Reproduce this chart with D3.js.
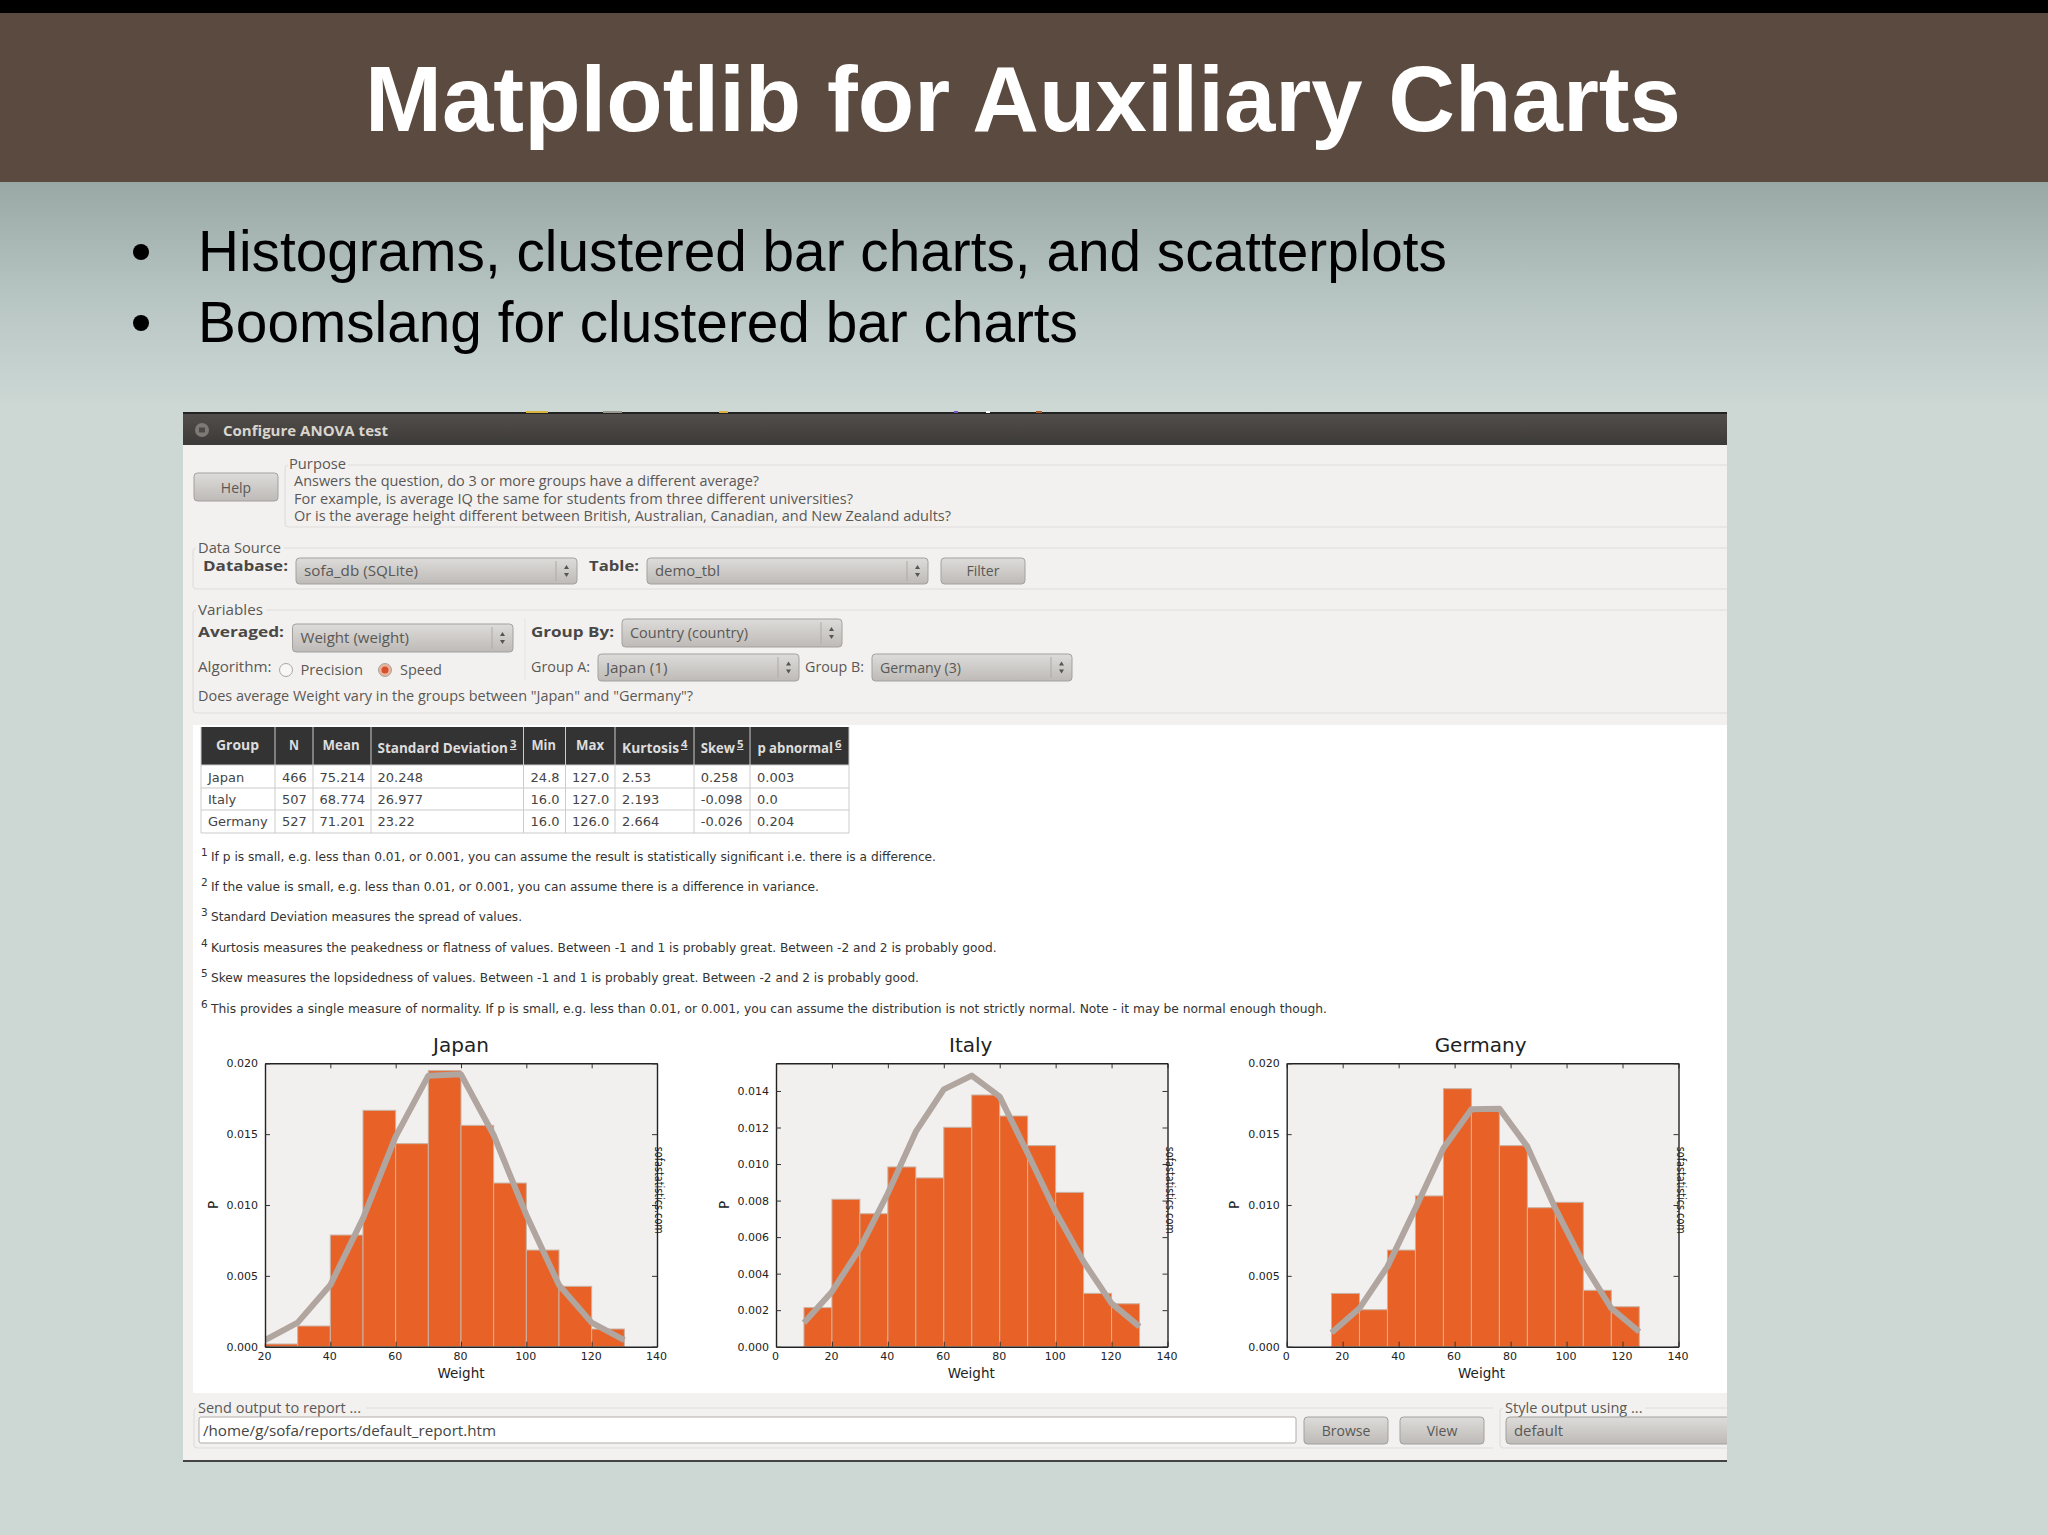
<!DOCTYPE html>
<html>
<head>
<meta charset="utf-8">
<title>Matplotlib for Auxiliary Charts</title>
<script src="https://cdn.jsdelivr.net/npm/d3@7/dist/d3.min.js"></script>
<style>
  html, body { margin: 0; padding: 0; background: #cdd8d5; }
  svg { display: block; }
  .ui { font-family: "Open Sans", sans-serif; font-size: 14px; fill: #5a5855; }
  .ui-bold { font-family: "Open Sans", sans-serif; font-size: 14px; font-weight: 700; fill: #4a4846; }
  .cell { font-family: "DejaVu Sans", sans-serif; font-size: 13px; fill: #444; }
  .head { font-family: "Open Sans", sans-serif; font-size: 14px; font-weight: 700; fill: #ddd; }
  .note { font-family: "DejaVu Sans", sans-serif; font-size: 12px; fill: #333; }
  .plot text { font-family: "DejaVu Sans", sans-serif; fill: #222; }
</style>
</head>
<body>
<svg id="slide" width="2048" height="1535" viewBox="0 0 2048 1535"></svg>
<script>
// ---- values ----
const slideTitle = "Matplotlib for Auxiliary Charts";
const bullets = ["Histograms, clustered bar charts, and scatterplots", "Boomslang for clustered bar charts"];

const purposeLines = [
  "Answers the question, do 3 or more groups have a different average?",
  "For example, is average IQ the same for students from three different universities?",
  "Or is the average height different between British, Australian, Canadian, and New Zealand adults?",
];

const tableHeaders = ["Group", "N", "Mean", "Standard Deviation", "Min", "Max", "Kurtosis", "Skew", "p abnormal"];
const headerNotes = ["", "", "", "3", "", "", "4", "5", "6"];
const tableRows = [
  ["Japan", "466", "75.214", "20.248", "24.8", "127.0", "2.53", "0.258", "0.003"],
  ["Italy", "507", "68.774", "26.977", "16.0", "127.0", "2.193", "-0.098", "0.0"],
  ["Germany", "527", "71.201", "23.22", "16.0", "126.0", "2.664", "-0.026", "0.204"],
];

const footnotes = [
  "If p is small, e.g. less than 0.01, or 0.001, you can assume the result is statistically significant i.e. there is a difference.",
  "If the value is small, e.g. less than 0.01, or 0.001, you can assume there is a difference in variance.",
  "Standard Deviation measures the spread of values.",
  "Kurtosis measures the peakedness or flatness of values. Between -1 and 1 is probably great. Between -2 and 2 is probably good.",
  "Skew measures the lopsidedness of values. Between -1 and 1 is probably great. Between -2 and 2 is probably good.",
  "This provides a single measure of normality. If p is small, e.g. less than 0.01, or 0.001, you can assume the distribution is not strictly normal. Note - it may be normal enough though.",
];

const xTicks = [20, 40, 60, 80, 100, 120, 140];
const xTicksZero = [0, 20, 40, 60, 80, 100, 120, 140];
const yTicksWide = [0, 0.005, 0.01, 0.015, 0.02];
const yTicksItaly = [0, 0.002, 0.004, 0.006, 0.008, 0.01, 0.012, 0.014];

const japanEdges = [20, 30, 40, 50, 60, 70, 80, 90, 100, 110, 120, 130];
const japanHeights = [0.00019, 0.00146, 0.00788, 0.01668, 0.01433, 0.01948, 0.01562, 0.01155, 0.00682, 0.00426, 0.00125];
const japanCurve = [0.00047, 0.0017, 0.00435, 0.00906, 0.01482, 0.01913, 0.01922, 0.01494, 0.0093, 0.00435, 0.0017, 0.00047];

const italyEdges = [10, 20, 30, 40, 50, 60, 70, 80, 90, 100, 110, 120, 130];
const italyHeights = [0.00214, 0.00807, 0.00728, 0.00984, 0.00924, 0.01201, 0.01378, 0.01263, 0.01101, 0.00845, 0.00292, 0.00235];
const italyCurve = [0.00131, 0.00301, 0.00538, 0.0084, 0.01177, 0.01409, 0.01484, 0.01369, 0.01059, 0.00739, 0.00465, 0.00237, 0.0011];

const germanyEdges = [16, 26, 36, 46, 56, 66, 76, 86, 96, 106, 116, 126];
const germanyHeights = [0.00376, 0.00261, 0.00682, 0.01064, 0.01821, 0.01671, 0.01419, 0.00981, 0.01019, 0.00398, 0.00282];
const germanyCurve = [0.00099, 0.00271, 0.00565, 0.00976, 0.014, 0.01675, 0.0168, 0.01412, 0.00976, 0.00588, 0.00271, 0.00106];

// ---- drawing ----
const svg = d3.select("#slide");
const defs = svg.append("defs");

function gradient(id, stops) {
  const g = defs.append("linearGradient").attr("id", id).attr("x1", 0).attr("y1", 0).attr("x2", 0).attr("y2", 1);
  stops.forEach(([o, c]) => g.append("stop").attr("offset", o).attr("stop-color", c));
}
gradient("bgFade", [[0, "#99a7a5"], [0.5, "#b7c5c2"], [1, "#cdd8d5"]]);
gradient("barFade", [[0, "#524e4b"], [1, "#3c3a38"]]);
gradient("widget", [[0, "#dedcda"], [1, "#bdbab7"]]);

// Text squeezed or stretched to the width it has in the picture (x to x2).
function txt(x, y, s, x2, cls, parent = svg) {
  const t = parent.append("text").attr("x", x).attr("y", y).attr("class", cls).text(s);
  if (x2 != null) t.attr("textLength", x2 - x).attr("lengthAdjust", "spacingAndGlyphs");
  return t;
}

// Slide background and heading.
svg.append("rect").attr("width", 2048).attr("height", 1535).attr("fill", "#cdd8d5");
svg.append("rect").attr("y", 182).attr("width", 2048).attr("height", 225).attr("fill", "url(#bgFade)");
svg.append("rect").attr("width", 2048).attr("height", 13).attr("fill", "#000");
svg.append("rect").attr("y", 13).attr("width", 2048).attr("height", 169).attr("fill", "#5a4a3f");

txt(365, 131, slideTitle, 1681, "").attr("font-family", "Liberation Sans").attr("font-weight", 700)
  .attr("font-size", 92).attr("fill", "#fff");

bullets.forEach((b, i) => {
  const base = 271 + i * 71;
  svg.append("circle").attr("cx", 141).attr("cy", base - 19).attr("r", 8).attr("fill", "#000");
  txt(198, base, b, i === 0 ? 1447 : 1078, "").attr("font-family", "Liberation Sans")
    .attr("font-size", 57).attr("fill", "#000");
});

// Window chrome.
const win = { left: 183, right: 1727, top: 413, bottom: 1462 };
svg.append("rect").attr("x", win.left).attr("y", win.top).attr("width", win.right - win.left)
  .attr("height", win.bottom - win.top).attr("fill", "#f3f1f0");
svg.append("rect").attr("x", win.left).attr("y", win.top).attr("width", win.right - win.left)
  .attr("height", 32).attr("fill", "url(#barFade)");
svg.append("rect").attr("x", win.left).attr("y", win.top - 1).attr("width", win.right - win.left)
  .attr("height", 2).attr("fill", "#222");
// specks of the desktop panel peeking out above the title bar
[[526, 22, "#d9b53c"], [603, 19, "#9a9a90"], [719, 9, "#e0b040"], [954, 4, "#7a50c0"], [986, 4, "#fff"], [1036, 6, "#a85a2a"]]
  .forEach(([x, w, c]) => svg.append("rect").attr("x", x).attr("y", win.top - 2).attr("width", w).attr("height", 2).attr("fill", c));
svg.append("rect").attr("x", win.left).attr("y", win.bottom - 2).attr("width", win.right - win.left)
  .attr("height", 2).attr("fill", "#444");

svg.append("circle").attr("cx", 202).attr("cy", 430).attr("r", 7).attr("fill", "#7d7a76");
svg.append("rect").attr("x", 199).attr("y", 427.5).attr("width", 6).attr("height", 5).attr("fill", "#4c4a47");
txt(223, 435.5, "Configure ANOVA test", 388, "ui-bold").style("fill", "#d9d5ce");

function groupBox(x, y1, y2, x2 = win.right) {
  svg.append("path").attr("fill", "none").attr("stroke", "#e0dedc").attr("stroke-width", 1.2)
    .attr("d", `M${x2},${y1} H${x + 4} Q${x},${y1} ${x},${y1 + 4} V${y2 - 4} Q${x},${y2} ${x + 4},${y2} H${x2}`);
}
function button(x1, y1, x2, y2, label) {
  svg.append("rect").attr("x", x1).attr("y", y1).attr("width", x2 - x1).attr("height", y2 - y1)
    .attr("rx", 3.5).attr("fill", "url(#widget)").attr("stroke", "#a3a09d");
  if (label) txt((x1 + x2) / 2, y2 - 8, label, null, "ui").attr("text-anchor", "middle");
}
// Combo box with the little up/down spinner at its right side.
function combo(x1, y1, x2, y2, label, textEnd) {
  button(x1, y1, x2, y2);
  txt(x1 + 8, y2 - (y2 - y1 >= 28 ? 9 : 8), label, textEnd, "ui");
  const sep = x2 - 21, mid = x2 - 10.5, cy = (y1 + y2) / 2;
  svg.append("line").attr("x1", sep).attr("x2", sep).attr("y1", y1 + 3).attr("y2", y2 - 3).attr("stroke", "#adaaa7");
  svg.append("path").attr("fill", "#555")
    .attr("d", `M${mid - 2.5},${cy - 2} L${mid},${cy - 6} L${mid + 2.5},${cy - 2} Z M${mid - 2.5},${cy + 2} L${mid},${cy + 6} L${mid + 2.5},${cy + 2} Z`);
}
function gapInFrame(x, y, w) {
  svg.append("rect").attr("x", x).attr("y", y).attr("width", w).attr("height", 12).attr("fill", "#f3f1f0");
}

// Purpose
button(194, 473, 278, 501, "Help");
groupBox(285, 465, 527);
gapInFrame(288, 459, 60);
txt(289, 469, "Purpose", 346, "ui");
const purposeEnds = [759, 853, 951];
purposeLines.forEach((l, i) => txt(294, 486 + i * 17.5, l, purposeEnds[i], "ui"));

// Data source
groupBox(193, 548, 589);
gapInFrame(196, 541, 88);
txt(198, 553, "Data Source", 281, "ui");
txt(203, 571, "Database:", 288, "ui-bold");
combo(296, 558, 577, 584, "sofa_db (SQLite)", 418);
txt(589, 571, "Table:", 639, "ui-bold");
combo(647, 558, 928, 584, "demo_tbl", 720);
button(941, 558, 1025, 584, "Filter");

// Variables
groupBox(193, 610, 713);
gapInFrame(196, 604, 70);
txt(198, 615, "Variables", 263, "ui");
txt(198, 637, "Averaged:", 284, "ui-bold");
combo(292.5, 624, 513, 652, "Weight (weight)", 409);
svg.append("line").attr("x1", 525).attr("x2", 525).attr("y1", 618).attr("y2", 680).attr("stroke", "#e6e4e2");
txt(531, 637, "Group By:", 614, "ui-bold");
combo(622, 619, 842, 647, "Country (country)", 748);
txt(198, 672, "Algorithm:", 271.5, "ui");
svg.append("circle").attr("cx", 286).attr("cy", 670).attr("r", 6.5).attr("fill", "#f8f7f6").attr("stroke", "#a8a5a2");
txt(300.5, 675, "Precision", 363, "ui");
svg.append("circle").attr("cx", 385).attr("cy", 670).attr("r", 6.5).attr("fill", "#e9b39c").attr("stroke", "#a8a5a2");
svg.append("circle").attr("cx", 385).attr("cy", 670).attr("r", 3.5).attr("fill", "#d8502a");
txt(400, 675, "Speed", 442, "ui");
txt(531, 672, "Group A:", 590, "ui");
combo(598, 654, 799, 681, "Japan (1)", 667.5);
txt(805, 672, "Group B:", 864, "ui");
combo(872, 654, 1072, 681, "Germany (3)", 961);
txt(198, 701, 'Does average Weight vary in the groups between "Japan" and "Germany"?', 693, "ui");

// White report pane.
svg.append("rect").attr("x", 193).attr("y", 725).attr("width", win.right - 193).attr("height", 668).attr("fill", "#fff");

// Statistics table. Column edges, header text spans and cell starts are layout only.
const colEdges = [201, 275, 313, 371, 523.5, 565.5, 615, 694, 750, 849];
const rowEdges = [765, 788, 810, 833];
const headSpans = [[216, 259], [289, 299], [322.6, 359.6], [377.5, 508], [531.5, 556], [576, 604], [622, 679], [700.7, 735], [757.4, 833]];
const cellStarts = [208, 282, 319.5, 377.5, 530.6, 572, 622, 700.7, 757];
const tableG = svg.append("g");
tableG.append("rect").attr("x", colEdges[0]).attr("y", 727).attr("width", colEdges[9] - colEdges[0]).attr("height", 38).attr("fill", "#333");
tableG.selectAll("line.h").data(rowEdges).join("line").attr("class", "h")
  .attr("x1", colEdges[0]).attr("x2", colEdges[9]).attr("y1", d => d).attr("y2", d => d).attr("stroke", "#ccc").attr("stroke-width", 1.2);
tableG.selectAll("line.v").data(colEdges).join("line").attr("class", "v")
  .attr("x1", d => d).attr("x2", d => d).attr("y1", 727).attr("y2", 833).attr("stroke", "#ccc").attr("stroke-width", 1);
tableHeaders.forEach((h, i) => {
  const noted = headerNotes[i] !== "";
  txt(headSpans[i][0], noted ? 753 : 750, h, headSpans[i][1], "head", tableG);
  if (noted) {
    txt(headSpans[i][1] + 2, 748, headerNotes[i], headSpans[i][1] + 8.5, "head", tableG)
      .style("font-size", "10px").style("text-decoration", "underline");
  }
});
tableRows.forEach((row, r) => {
  row.forEach((c, i) => txt(cellStarts[i], 782 + r * 22.2, c, null, "cell", tableG));
});

// Footnotes.
const noteEnds = [936, 819, 522, 996.5, 919, 1327];
footnotes.forEach((n, i) => {
  const base = 860.5 + i * 30.4;
  txt(201, base - 5, String(i + 1), null, "note").style("font-size", "10.5px");
  txt(211, base, n, noteEnds[i], "note");
});

// Small-multiple histograms: matplotlib look, ticks pointing inward on all four sides.
function histogram({ name, left, right, xMin, yMax, xTickVals, yTickVals, edges, heights, curve, clipId, labelShift }) {
  const top = 1063.3, bottom = 1346.7;
  const x = d3.scaleLinear().domain([xMin, 140]).range([left, right]);
  const y = d3.scaleLinear().domain([0, yMax]).range([bottom, top]);
  const g = svg.append("g").attr("class", "plot");

  g.append("rect").attr("x", left).attr("y", top).attr("width", right - left).attr("height", bottom - top).attr("fill", "#f2f0ef");
  defs.append("clipPath").attr("id", clipId).append("rect")
    .attr("x", left).attr("y", top).attr("width", right - left).attr("height", bottom - top);

  g.selectAll("rect.bar").data(heights).join("rect").attr("class", "bar")
    .attr("x", (d, i) => x(edges[i]))
    .attr("width", (d, i) => x(edges[i + 1]) - x(edges[i]))
    .attr("y", d => y(d))
    .attr("height", d => y(0) - y(d))
    .attr("fill", "#e86227")
    .attr("stroke", "#c8b4a6")
    .attr("stroke-width", 1);

  const line = d3.line().x((d, i) => x(edges[i])).y(d => y(d));
  g.append("path").datum(curve).attr("d", line).attr("fill", "none")
    .attr("stroke", "#b0a59f").attr("stroke-width", 6).attr("stroke-linejoin", "round")
    .attr("clip-path", `url(#${clipId})`);

  const fmtY = d3.format(".3f");
  const bottomAxis = d3.axisBottom(x).tickValues(xTickVals).tickSizeInner(-5).tickSizeOuter(0).tickPadding(5.5).tickFormat(d3.format("d"));
  const topAxis = d3.axisTop(x).tickValues(xTickVals).tickSizeInner(-5).tickSizeOuter(0).tickFormat("");
  const leftAxis = d3.axisLeft(y).tickValues(yTickVals).tickSizeInner(-5).tickSizeOuter(0).tickPadding(7).tickFormat(fmtY);
  const rightAxis = d3.axisRight(y).tickValues(yTickVals).tickSizeInner(-5).tickSizeOuter(0).tickFormat("");
  [[bottomAxis, 0, bottom], [topAxis, 0, top], [leftAxis, left, 0], [rightAxis, right, 0]].forEach(([ax, tx, ty]) => {
    const a = g.append("g").attr("transform", `translate(${tx},${ty})`).call(ax);
    a.selectAll("path.domain").attr("stroke", "#222").attr("stroke-width", 1.4);
    a.selectAll("line").attr("stroke", "#333").attr("stroke-width", 1);
    a.selectAll("text").attr("font-size", 11).attr("font-family", null);
  });
  // the saved figure's x labels sit a hair left of their ticks
  g.selectAll("g.tick text").filter(function () { return this.getAttribute("dy") === "0.71em"; }).attr("dx", -1);

  const mid = (left + right) / 2;
  g.append("text").attr("x", mid + labelShift).attr("y", 1051.7).attr("text-anchor", "middle").attr("font-size", 20).text(name);
  g.append("text").attr("x", mid + labelShift / 2).attr("y", 1378).attr("text-anchor", "middle").attr("font-size", 13.5).text("Weight");
  g.append("text").attr("transform", `translate(${left - 47.5},1205) rotate(-90)`).attr("text-anchor", "middle")
    .attr("font-size", 13.5).text("P");
  g.append("text").attr("transform", `translate(${right - 2},1146.7) rotate(90)`)
    .attr("font-size", 12).attr("textLength", 87).attr("lengthAdjust", "spacingAndGlyphs").text("sofastatistics.com");
}

histogram({ name: "Japan", left: 265, right: 657, xMin: 20, yMax: 0.02, xTickVals: xTicks, yTickVals: yTicksWide,
  edges: japanEdges, heights: japanHeights, curve: japanCurve, clipId: "clipJapan", labelShift: 0 });
histogram({ name: "Italy", left: 776, right: 1167.5, xMin: 0, yMax: 0.015515, xTickVals: xTicksZero, yTickVals: yTicksItaly,
  edges: italyEdges, heights: italyHeights, curve: italyCurve, clipId: "clipItaly", labelShift: -1 });
histogram({ name: "Germany", left: 1286.7, right: 1678.5, xMin: 0, yMax: 0.02, xTickVals: xTicksZero, yTickVals: yTicksWide,
  edges: germanyEdges, heights: germanyHeights, curve: germanyCurve, clipId: "clipGermany", labelShift: -2 });

// Bottom strip.
groupBox(194, 1408, 1448, 1493);
gapInFrame(196, 1401, 170);
txt(198, 1413, "Send output to report ...", 361, "ui");
svg.append("rect").attr("x", 199).attr("y", 1417).attr("width", 1097).attr("height", 26).attr("rx", 2)
  .attr("fill", "#fff").attr("stroke", "#b0adaa");
txt(203, 1436, "/home/g/sofa/reports/default_report.htm", 496, "ui").style("fill", "#444");
button(1304, 1417, 1388, 1444, "Browse");
button(1400, 1417, 1484, 1444, "View");
groupBox(1500, 1408, 1448);
gapInFrame(1503, 1401, 142);
txt(1505, 1413, "Style output using ...", 1642.5, "ui");
svg.append("path").attr("fill", "url(#widget)").attr("stroke", "#a3a09d")
  .attr("d", `M${win.right},1417 H1510 Q1506,1417 1506,1421 V1440 Q1506,1444 1510,1444 H${win.right}`);
txt(1514, 1436, "default", 1563, "ui");
</script>
</body>
</html>
